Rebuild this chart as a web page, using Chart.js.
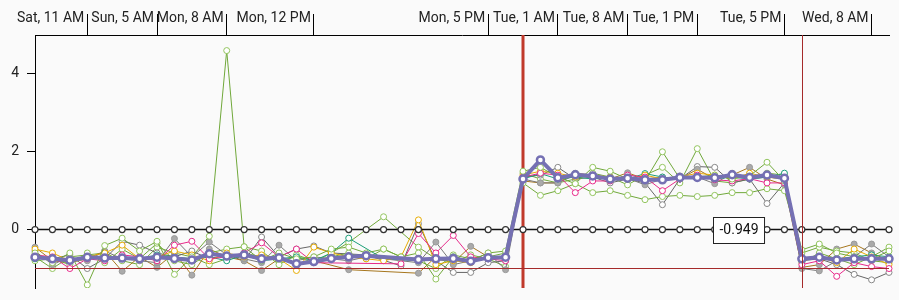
<!DOCTYPE html>
<html>
<head>
<meta charset="utf-8">
<script src="https://cdn.jsdelivr.net/npm/chart.js@4"></script>
<style>
  html, body { margin: 0; padding: 0; background: #fafafa; }
  #wrap { width: 899px; height: 300px; }
</style>
</head>
<body>
<div id="wrap"><canvas id="chart" width="899" height="300"></canvas></div>
<script>
/* multi-series time chart with event marker and crosshair */

const CATEGORIES = Array.from({ length: 50 }, (_, i) => 'p' + i);
const TICK_INDEX = [3, 7, 11, 16, 26, 30, 34, 38, 43, 48];
const TICK_TEXT = ['Sat, 11 AM', 'Sun, 5 AM', 'Mon, 8 AM', 'Mon, 12 PM', 'Mon, 5 PM',
  'Tue, 1 AM', 'Tue, 8 AM', 'Tue, 1 PM', 'Tue, 5 PM', 'Wed, 8 AM'];
const Y_TICKS = [0, 2, 4];

const EVENT_INDEX = 28;     // thick red marker
const CROSS_INDEX = 44;     // crosshair column
const CROSS_VALUE = -0.99;  // crosshair row
const CROSS_TEXT = '-0.949';

const BASELINE = CATEGORIES.map(() => 0);

const MEAN = [
  -0.71, -0.75, -0.79, -0.71, -0.73, -0.73, -0.75, -0.71, -0.74, -0.78,
  -0.62, -0.68, -0.65, -0.75, -0.72, -0.88, -0.82, -0.74, -0.70, -0.67,
  null, null, -0.77, -0.75, -0.74, -0.81, -0.72, -0.71,
  1.30, 1.79, 1.33, 1.41, 1.38, 1.30, 1.32, 1.28, 1.28, 1.34, 1.34, 1.33, 1.41, 1.34, 1.40, 1.32,
  -0.75, -0.71, -0.78, -0.75, -0.75, -0.75,
];

const GREEN_A = [
  -0.60, -0.85, -0.60, -1.42, -0.41, -0.22, -0.55, -0.30, -1.15, -0.70,
  -0.17, 4.60, -0.44, -0.80, -0.60, -0.75, -0.70, -0.50, -0.45, -0.60,
  -0.50, -0.70, -0.60, -1.27, -0.70, -0.80, -0.60, -0.55,
  1.50, 1.60, 1.35, 1.18, 1.60, 1.50, 1.30, 1.25, 2.00, 1.31, 1.35, 1.40, 1.30, 1.38, 1.73, 1.25,
  -0.52, -0.37, -0.60, -0.70, -0.75, -0.55,
];

const GREEN_B = [
  -0.80, -0.75, -0.90, -0.60, -0.85, -0.50, -0.75, -0.35, -0.80, -0.90,
  -0.60, -0.50, -0.44, -0.55, -0.90, -0.65, -0.80, -0.70, -0.60, -0.75,
  -0.50, -0.70, -0.80, -1.00, -0.65, -0.75, -0.70, -0.60,
  1.20, 0.88, 1.00, 1.18, 0.95, 1.00, 0.88, 0.77, 0.85, 0.88, 0.85, 0.88, 0.95, 0.95, 1.05, 1.00,
  -0.60, -0.45, -0.55, -0.60, -0.80, -0.85,
];

const GREEN_C = [
  -0.70, -1.00, -0.70, -0.65, -0.60, -0.80, -0.90, -0.45, -0.60, -0.70,
  -0.90, -0.75, -0.60, -0.70, -0.80, -0.70, -0.85, -0.60, -0.33, null,
  0.33, null, -0.45, -0.75, -0.85, -0.65, -0.75, -0.95,
  1.45, 1.30, 1.20, 1.30, 1.45, 1.35, 1.15, 1.40, 1.60, 1.20, 2.08, 1.25, 1.20, 1.30, 1.45, 1.40,
  -0.85, -0.60, -0.75, -0.90, -0.70, -0.45,
];

const PINK = [
  -0.65, -0.70, -1.00, -0.75, -0.80, -0.65, -0.70, -0.80, -0.40, -0.30,
  -0.75, -0.70, -0.60, -0.34, -0.70, -0.50, -0.85, null, null, null,
  null, -0.88, -0.10, -0.60, -0.15, -0.70, -0.75, -0.80,
  1.35, 1.45, 1.40, 0.95, 1.25, 1.25, 1.40, 1.35, 1.00, 1.30, 1.40, 1.28, 1.25, 1.31, 1.20, 1.20,
  -0.90, -0.80, -1.20, -0.85, -0.95, -1.00,
];

const GOLD = [
  -0.50, -0.60, -0.80, -0.70, -0.60, -0.40, -0.75, -0.70, -0.55, -0.65,
  -0.80, -0.60, -0.70, -0.65, -0.75, -1.05, -0.45, -0.60, -0.70, -0.75,
  -0.80, -0.70, 0.25, -0.90, -0.80, -0.85, -0.70, -0.75,
  1.40, 1.50, 1.45, 1.35, 1.40, 1.35, 1.30, 1.40, 1.30, 1.35, 1.45, 1.40, 1.30, 1.45, 1.35, 1.30,
  -0.80, -0.70, -0.85, -0.50, -0.70, -0.90,
];

const BROWN = [
  -0.45, -0.80, -0.85, -0.75, -0.55, -1.07, -0.70, -0.97, -0.60, -1.17,
  -0.50, -0.70, -0.80, -1.05, -0.75, -0.90, -0.80, null, -1.03, null,
  null, null, -1.12, -0.70, -0.85, -0.43, -0.70, -0.75,
  1.25, 1.20, 1.20, 1.45, 1.40, 1.30, 1.46, 1.30, 1.35, 1.30, 1.55, 1.30, 1.40, 1.60, 1.30, 1.15,
  -0.97, -0.90, -0.50, -0.37, -0.60, -0.80,
];

const GRAY = [
  -0.70, -0.75, -0.65, -1.00, -0.75, -0.30, -0.40, -0.60, -0.70, -0.55,
  -0.75, -0.65, -0.80, -0.19, -0.70, -0.50, -0.42, -0.60, null, -0.65,
  null, -0.93, 0.15, -0.80, -1.10, -1.10, -0.85, -0.80,
  1.35, 1.40, 1.60, 1.30, 1.35, 1.20, 1.30, 1.20, 0.64, 1.30, 1.62, 1.60, 1.20, 1.30, 0.67, 1.20,
  -0.80, -0.75, -0.90, -1.15, -1.29, -1.10,
];

const GRAY_B = [
  -0.55, -0.90, -0.70, -0.80, -0.55, -0.75, -0.80, -0.85, -0.23, -0.70,
  -0.32, -0.65, -0.75, -0.85, -0.40, -0.80, -0.70, -0.75, -0.80, -0.70,
  -0.75, -0.80, -0.85, -0.32, -0.90, -0.80, -0.60, -1.03,
  1.30, 1.20, 1.20, 1.40, 1.38, 1.35, 1.32, 1.15, 1.30, 1.38, 1.35, 1.18, 1.45, 1.30, 1.35, 1.30,
  -1.00, -1.06, -0.80, -0.70, -0.37, -0.70,
];

const TEAL = [
  -0.75, -0.70, -0.80, -0.70, -0.75, -0.70, -0.75, -0.65, -0.70, -0.75,
  -0.70, -0.80, -0.65, -0.80, -0.75, -0.70, -0.80, -0.60, -0.22, null,
  -0.75, null, -0.80, -0.75, -0.70, -0.80, -0.75, -0.70,
  1.30, 1.44, 1.30, 1.35, 1.30, 1.35, 1.30, 1.44, 1.35, 1.30, 1.35, 1.30, 1.35, 1.30, 1.35, 1.45,
  -0.75, -0.70, -0.75, -0.70, -0.65, -0.70,
];

function thin(data, line, pointBorder, pointFill) {
  return {
    data,
    borderColor: line,
    borderWidth: 1,
    pointRadius: 3,
    pointBorderWidth: 1,
    pointBorderColor: pointBorder,
    pointBackgroundColor: pointFill,
    spanGaps: true,
  };
}

const markers = {
  id: 'markers',
  beforeDatasetsDraw(chart) {
    const { ctx, chartArea, scales } = chart;
    const x = scales.x.getPixelForValue(EVENT_INDEX);
    ctx.save();
    ctx.strokeStyle = '#c0392b';
    ctx.lineWidth = 3;
    ctx.beginPath();
    ctx.moveTo(x, chartArea.top);
    ctx.lineTo(x, chartArea.bottom);
    ctx.stroke();
    ctx.restore();
  },
  afterDatasetsDraw(chart) {
    const { ctx, chartArea, scales } = chart;
    const cx = Math.round(scales.x.getPixelForValue(CROSS_INDEX)) + 0.5;
    const cy = Math.round(scales.y.getPixelForValue(CROSS_VALUE)) + 0.5;
    ctx.save();
    ctx.strokeStyle = '#a52a2a';
    ctx.lineWidth = 1;
    ctx.beginPath();
    ctx.moveTo(cx, chartArea.top);
    ctx.lineTo(cx, chartArea.bottom);
    ctx.moveTo(chartArea.left, cy);
    ctx.lineTo(chartArea.right, cy);
    ctx.stroke();

    ctx.font = '14px Roboto';
    const w = ctx.measureText(CROSS_TEXT).width + 12;
    const h = 26;
    const right = cx - 38;
    const mid = scales.y.getPixelForValue(0);
    const bx = Math.round(right - w) + 0.5;
    const by = Math.round(mid - h / 2) + 0.5;
    ctx.fillStyle = '#fff';
    ctx.strokeStyle = '#222';
    ctx.fillRect(bx, by, w, h);
    ctx.strokeRect(bx, by, w, h);
    ctx.fillStyle = '#111';
    ctx.textAlign = 'center';
    ctx.textBaseline = 'middle';
    ctx.fillText(CROSS_TEXT, bx + w / 2, mid + 1);
    ctx.restore();
  },
};

Chart.defaults.font.family = 'Roboto';

new Chart(document.getElementById('chart'), {
  type: 'line',
  data: {
    labels: CATEGORIES,
    datasets: [
      {
        data: MEAN,
        borderColor: '#7570b3',
        borderWidth: 4,
        pointRadius: 3.5,
        pointBorderWidth: 2.5,
        pointBorderColor: '#7570b3',
        pointBackgroundColor: '#fff',
        spanGaps: true,
      },
      {
        data: BASELINE,
        borderColor: '#111',
        borderWidth: 1.5,
        pointRadius: 3,
        pointBorderWidth: 1.2,
        pointBorderColor: '#333',
        pointBackgroundColor: '#fff',
      },
      thin(GREEN_A, '#70a83a', '#92c45e', '#fff'),
      thin(PINK, '#e7298a', '#e7298a', '#fff'),
      thin(GOLD, '#e6ab02', '#e6ab02', '#fff'),
      thin(TEAL, '#1b9e77', '#1b9e77', '#fff'),
      thin(GRAY_B, '#777', '#999', '#aaa'),
      thin(GREEN_B, '#70a83a', '#92c45e', '#fff'),
      thin(BROWN, '#a6761d', '#999', '#aaa'),
      thin(GRAY, '#666', '#888', '#fff'),
      thin(GREEN_C, '#70a83a', '#92c45e', '#fff'),
    ],
  },
  options: {
    responsive: false,
    animation: false,
    layout: { padding: { left: 0, right: 10, top: 0, bottom: 12 } },
    plugins: { legend: { display: false }, tooltip: { enabled: false } },
    scales: {
      x: {
        type: 'category',
        position: 'top',
        offset: false,
        border: { display: true, color: '#000', width: 1 },
        grid: { drawOnChartArea: false, drawTicks: true, tickLength: 21, color: '#000' },
        ticks: {
          autoSkip: false,
          maxRotation: 0,
          align: 'end',
          padding: -13,
          labelOffset: -3,
          color: '#222',
          font: { size: 14 },
          callback: (v, i) => {
            const k = TICK_INDEX.indexOf(i);
            return k >= 0 ? TICK_TEXT[k] : null;
          },
        },
        afterFit: (s) => { s.height = 35; s.paddingLeft = 0; s.paddingRight = 0; },
      },
      y: {
        min: -1.5,
        max: 5,
        border: { display: true, color: '#000', width: 1 },
        grid: { drawOnChartArea: false, drawTicks: true, tickLength: 8, color: '#000' },
        ticks: { padding: 8, color: '#222', font: { size: 14 } },
        afterBuildTicks: (s) => { s.ticks = Y_TICKS.map((v) => ({ value: v })); },
        afterFit: (s) => { s.width = 35; s.paddingTop = 0; s.paddingBottom = 0; },
      },
    },
  },
  plugins: [markers],
});
</script>
</body>
</html>
